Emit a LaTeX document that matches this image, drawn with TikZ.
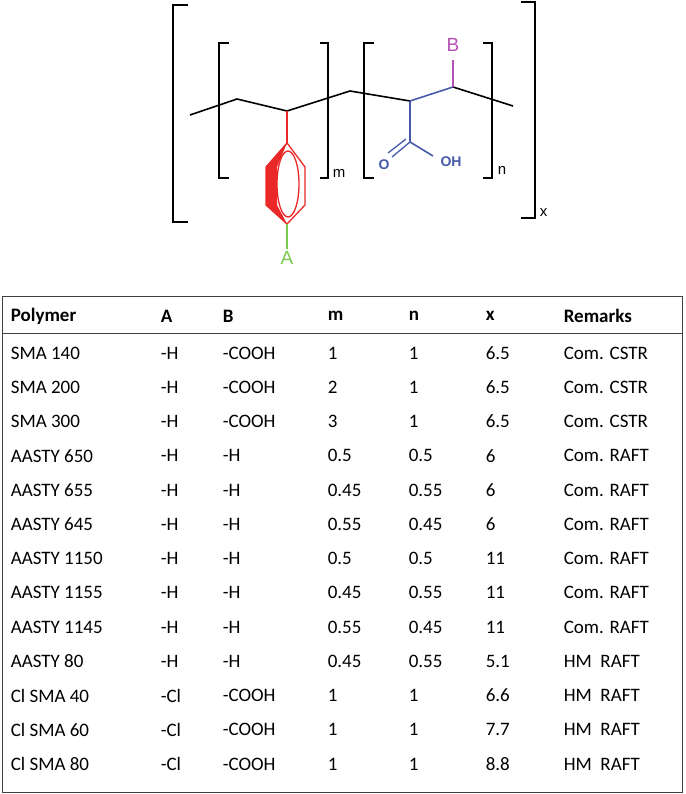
\documentclass[tikz,border=0pt]{standalone}
\usepackage{fontspec}
\setmainfont{Carlito}
\newfontfamily\arialf{Liberation Sans}
\definecolor{cred}{RGB}{235,40,40}
\definecolor{cblue}{RGB}{70,90,170}
\definecolor{cmag}{RGB}{180,80,180}
\definecolor{cgreen}{RGB}{120,200,80}
\begin{document}
\begin{tikzpicture}[x=1pt,y=-1pt,line width=1.6pt,
  bond/.style={line join=round},
  cell/.style={anchor=west,font=\fontsize{19}{22}\selectfont,inner sep=0pt},
  head/.style={cell,font=\fontsize{19}{22}\selectfont\bfseries},
  lab/.style={font=\arialf\fontsize{15}{17}\selectfont,inner sep=0pt}]
\useasboundingbox (0,0) rectangle (685,794);
% brackets
\draw (188,5) -- (173,5) -- (173,222) -- (188,222);
\draw (521,2) -- (535,2) -- (535,218) -- (521,218);
\draw (229,43) -- (219,43) -- (219,178) -- (229,178);
\draw (320,43) -- (328,43) -- (328,178) -- (320,178);
\draw (374,43) -- (364,43) -- (364,178) -- (374,178);
\draw (483,43) -- (492,43) -- (492,178) -- (483,178);
\node[lab,anchor=west] (xs) at (539,213) {x};
\node[lab,anchor=west] (ms) at (332,173) {m};
\node[lab,anchor=west] (ns) at (497,170) {n};
% chain
\coordinate (c1) at (190,115); \coordinate (c2) at (237,99);
\coordinate (c3) at (287,111); \coordinate (c4) at (350,91);
\coordinate (c5) at (410,101); \coordinate (c6) at (453,87);
\coordinate (c7) at (513,106);
\draw[bond] (c1)--(c2)--(c3)--(c4)--(c5);
\draw[bond,cblue] (c5)--(c6);
\draw[bond] (c6)--(c7);
% phenyl
\coordinate (r1) at (287,143); \coordinate (r2) at (305,167);
\coordinate (r3) at (305,205); \coordinate (r4) at (287,224);
\coordinate (r5) at (266,205); \coordinate (r6) at (266,167);
\draw[cred] (c3)--(r1);
\fill[cred] (r1)--(r6)--(r5)--(r4)--(277,205)--(277,167)--cycle;
\draw[cred,line width=1.3pt,line join=round] (r1)--(r2)--(r3)--(r4)--(r5)--(r6)--cycle;
\draw[cred,line width=1.3pt,fill=white] (288,184) ellipse (11 and 33);
\draw[cgreen] (r4)--(287,249);
\node[lab,cgreen,font=\arialf\fontsize{19}{21}\selectfont] (A) at (287,258) {A};
% acid
\coordinate (cc) at (410,142);
\draw[cblue] (c5)--(cc);
\draw[cblue,line width=1.3pt] (cc)--(392,157) (406,139)--(388,153);
\draw[cblue] (cc)--(433,156);
\node[lab,cblue,font=\arialf\bfseries\fontsize{14}{16}\selectfont] (O) at (384,165) {O};
\node[lab,cblue,font=\arialf\bfseries\fontsize{14}{16}\selectfont] (OH) at (451,162) {OH};
\draw[cmag] (c6)--(453,60);
\node[lab,cmag,font=\arialf\fontsize{19}{21}\selectfont] (B) at (453,45) {B};
% table
\draw[line width=1pt,draw=black!75] (2,296) rectangle (682,792);
\draw[line width=1pt,draw=black!75] (2,333) -- (682,333);
\foreach \t/\x in {Polymer/10,A/160,B/222,m/327,n/408,x/485,Remarks/563}
  \node[head] at (\x,316) {\t};
\foreach \a/\b/\c/\d/\e/\f/\g [count=\i from 0] in {
 SMA 140/-H/-COOH/1/1/6.5/Com. CSTR,
 SMA 200/-H/-COOH/2/1/6.5/Com. CSTR,
 SMA 300/-H/-COOH/3/1/6.5/Com. CSTR,
 AASTY 650/-H/-H/0.5/0.5/6/Com. RAFT,
 AASTY 655/-H/-H/0.45/0.55/6/Com. RAFT,
 AASTY 645/-H/-H/0.55/0.45/6/Com. RAFT,
 AASTY 1150/-H/-H/0.5/0.5/11/Com. RAFT,
 AASTY 1155/-H/-H/0.45/0.55/11/Com. RAFT,
 AASTY 1145/-H/-H/0.55/0.45/11/Com. RAFT,
 AASTY 80/-H/-H/0.45/0.55/5.1/HM\ \ RAFT,
 Cl SMA 40/-Cl/-COOH/1/1/6.6/HM\ \ RAFT,
 Cl SMA 60/-Cl/-COOH/1/1/7.7/HM\ \ RAFT,
 Cl SMA 80/-Cl/-COOH/1/1/8.8/HM\ \ RAFT}{
  \pgfmathsetmacro\yy{353+34.25*\i}
  \node[cell] at (10,\yy) {\a};
  \node[cell] at (160,\yy) {\b};
  \node[cell] at (222,\yy) {\c};
  \node[cell] at (327,\yy) {\d};
  \node[cell] at (408,\yy) {\e};
  \node[cell] at (485,\yy) {\f};
  \node[cell] at (563,\yy) {\g};
}
\end{tikzpicture}
\end{document}
